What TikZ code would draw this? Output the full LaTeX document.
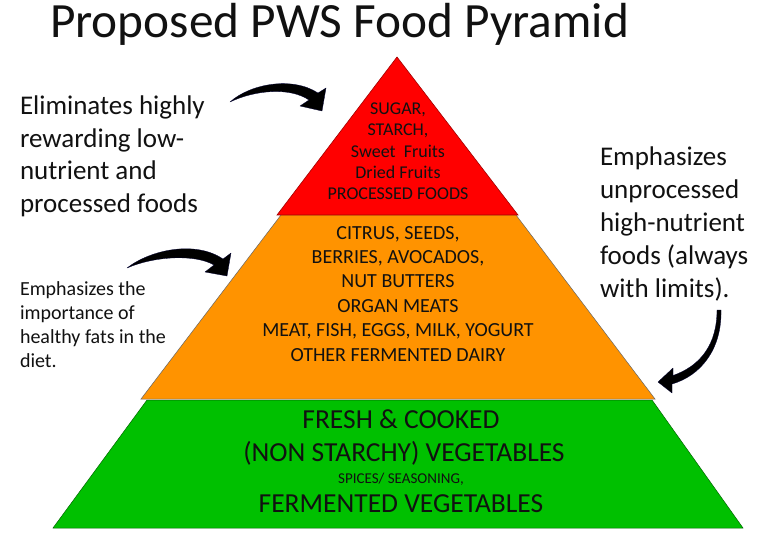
\documentclass[tikz,border=0pt]{standalone}
\usepackage{fontspec}
\setmainfont{Carlito}
\definecolor{pyrred}{HTML}{FF0000}
\definecolor{pyrredline}{HTML}{A00000}
\definecolor{pyrorange}{HTML}{FF9300}
\definecolor{pyrgreen}{HTML}{00C000}
\definecolor{txt}{HTML}{111111}
\begin{document}
\begin{tikzpicture}[x=1pt,y=-1pt,
  lbl/.style={inner sep=0pt, outer sep=0pt, text=txt},
  bigtxt/.style={lbl, font=\fontsize{27}{33}\selectfont, align=left, anchor=base west},
  smalltxt/.style={lbl, font=\fontsize{20}{24}\selectfont, align=left, anchor=base west},
  layertxt/.style={lbl, align=center, anchor=base},
  curvearrow/.style={fill=black, draw=black!80!blue, line width=0.3pt, line join=round}]
\useasboundingbox (0,0) rectangle (768,548);
\fill[white] (0,0) rectangle (768,548);

% pyramid layers
\draw[fill=pyrgreen, draw=black!60!green, line width=0.5pt] (147,400) -- (652,400) -- (743,528) -- (53,528) -- cycle;
\draw[fill=pyrorange, draw=black!60, line width=0.5pt] (281,215) -- (516,215) -- (655,399) -- (141,399) -- cycle;
\draw[fill=pyrred, draw=pyrredline, line width=0.6pt] (397,57) -- (518,215) -- (277,215) -- cycle;

% title
\node[lbl, font=\fontsize{49.3}{59}\selectfont, anchor=base west] (title) at (50,38) {Proposed PWS Food Pyramid};

% side texts (base anchor = baseline of the last line)
\node[bigtxt] (elim) at (20,213) {Eliminates highly\\rewarding low-\\nutrient and\\processed foods};
\node[smalltxt] (fats) at (20,367) {Emphasizes the\\importance of\\healthy fats in the\\diet.};
\node[bigtxt] (unproc) at (600,297) {Emphasizes\\unprocessed\\high-nutrient\\foods (always\\with limits).};

% layer texts
\node[layertxt, font=\fontsize{18}{21.4}\selectfont] (redtxt) at (398,200) {SUGAR,\\STARCH,\\Sweet\ \ Fruits\\Dried Fruits\\PROCESSED FOODS};
\node[layertxt, font=\fontsize{20}{24.4}\selectfont] (orangetxt) at (398,361) {CITRUS, SEEDS,\\BERRIES, AVOCADOS,\\NUT BUTTERS\\ORGAN MEATS\\MEAT, FISH, EGGS, MILK, YOGURT\\OTHER FERMENTED DAIRY};
\node[layertxt, font=\fontsize{27.5}{31}\selectfont] (g1) at (401,428) {FRESH \& COOKED};
\node[layertxt, font=\fontsize{27.5}{31}\selectfont] (g2) at (404,461) {(NON STARCHY) VEGETABLES};
\node[layertxt, font=\fontsize{15}{17}\selectfont] (g3) at (401,483) {SPICES/ SEASONING,};
\node[layertxt, font=\fontsize{27.5}{31}\selectfont] (g4) at (401,512) {FERMENTED VEGETABLES};

% curved arrows
\fill[curvearrow] (230,102) .. controls (250,84) and (292,76) .. (318,93)
  -- (326,88) -- (322,111) -- (300,106) -- (309,100)
  .. controls (290,87) and (255,90) .. (230,102) -- cycle;
\fill[curvearrow] (127,268) .. controls (150,250) and (195,240) .. (223,259)
  -- (231,253) -- (227,276) -- (205,272) -- (214,265)
  .. controls (195,254) and (155,256) .. (127,268) -- cycle;
\fill[curvearrow] (721,310) .. controls (722,350) and (700,376) .. (672,384)
  -- (672,393) -- (658,382) -- (673,368) -- (673,375.5)
  .. controls (700,366) and (717,345) .. (717,310) -- cycle;
\end{tikzpicture}
\end{document}
